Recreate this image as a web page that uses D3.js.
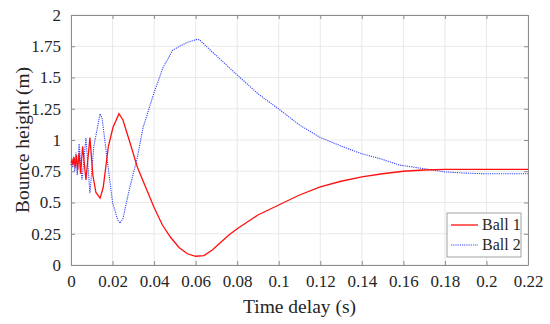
<!DOCTYPE html>
<html>
<head>
<meta charset="utf-8">
<script src="https://cdn.jsdelivr.net/npm/d3@7"></script>
<style>
  body { margin: 0; background: #fff; }
  text { font-family: "Liberation Serif", "DejaVu Serif", serif; fill: #262626; }
</style>
</head>
<body>
<div id="container"></div>
<script>
// time (s) and bounce height (m)
const ball1T = [0, 0.0005, 0.001, 0.0015, 0.002, 0.0026, 0.0032, 0.0039, 0.0046, 0.0056, 0.0072, 0.0091,
  0.0105, 0.012, 0.014, 0.0155, 0.018, 0.0202, 0.0231, 0.025, 0.028, 0.032, 0.036, 0.04, 0.044, 0.048,
  0.052, 0.056, 0.06, 0.064, 0.068, 0.072, 0.076, 0.08, 0.09, 0.1, 0.11, 0.12, 0.13, 0.14, 0.15, 0.16,
  0.17, 0.18, 0.19, 0.2, 0.22]
const ball1H = [0.82, 0.84, 0.8, 0.86, 0.78, 0.88, 0.76, 0.9, 0.73, 0.95, 0.68, 1.02,
  0.72, 0.58, 0.535, 0.62, 0.95, 1.1, 1.21, 1.16, 1.0, 0.78, 0.62, 0.46, 0.32, 0.22,
  0.14, 0.09, 0.07, 0.075, 0.12, 0.18, 0.24, 0.29, 0.4, 0.48, 0.56, 0.625, 0.67, 0.705, 0.73, 0.75,
  0.76, 0.765, 0.765, 0.765, 0.765]

const ball2T = [0, 0.0004, 0.0008, 0.0013, 0.0018, 0.0024, 0.003, 0.0039, 0.0053, 0.0072, 0.0091, 0.011,
  0.014, 0.015, 0.017, 0.02, 0.0225, 0.0236, 0.025, 0.028, 0.0318, 0.0347, 0.04, 0.0443, 0.049, 0.0558,
  0.0607, 0.062, 0.067, 0.08, 0.09, 0.1006, 0.11, 0.12, 0.131, 0.14, 0.149, 0.158, 0.166, 0.174, 0.18,
  0.19, 0.2, 0.22]
const ball2H = [0.8, 0.84, 0.78, 0.87, 0.75, 0.9, 0.72, 0.97, 0.68, 1.015, 0.575, 0.95,
  1.21, 1.17, 0.9, 0.5, 0.36, 0.335, 0.37, 0.6, 0.85, 1.1, 1.38, 1.58, 1.72, 1.78,
  1.805, 1.8, 1.72, 1.52, 1.37, 1.24, 1.12, 1.02, 0.945, 0.89, 0.85, 0.8, 0.78, 0.76, 0.745,
  0.735, 0.73, 0.73]

const xTicks = [0, 0.02, 0.04, 0.06, 0.08, 0.1, 0.12, 0.14, 0.16, 0.18, 0.2, 0.22]
const yTicks = [0, 0.25, 0.5, 0.75, 1, 1.25, 1.5, 1.75, 2]
const seriesNames = ["Ball 1", "Ball 2"]

const width = 550
const height = 324
const margins = { top: 15, right: 22, bottom: 59, left: 71 }

const x = d3.scaleLinear([0, 0.22], [margins.left, width - margins.right])
const y = d3.scaleLinear([0, 2], [height - margins.bottom, margins.top])

const svg = d3.select('#container')
  .append('svg')
  .attr('width', width)
  .attr('height', height)
  .attr('viewBox', [0, 0, width, height])

// grid
svg.append('g')
  .selectAll('line')
  .data(xTicks)
  .join('line')
  .attr('x1', d => x(d)).attr('x2', d => x(d))
  .attr('y1', y(0)).attr('y2', y(2))
  .attr('stroke', '#e3e3e3').attr('stroke-width', 0.8)
svg.append('g')
  .selectAll('line')
  .data(yTicks)
  .join('line')
  .attr('y1', d => y(d)).attr('y2', d => y(d))
  .attr('x1', x(0)).attr('x2', x(0.22))
  .attr('stroke', '#e3e3e3').attr('stroke-width', 0.8)

// axes with inward ticks on all sides
const fmt = d => String(d)
const axisStyle = g => {
  g.select('.domain').attr('stroke', '#8c8c8c')
  g.selectAll('.tick line').attr('stroke', '#8c8c8c')
  g.selectAll('.tick text').attr('font-size', 17).attr('fill', '#262626')
    .attr('font-family', '"Liberation Serif", serif')
}
svg.append('g')
  .attr('transform', `translate(0,${y(0)})`)
  .call(d3.axisBottom(x).tickValues(xTicks).tickFormat(fmt).tickSizeInner(-4).tickSizeOuter(0).tickPadding(10))
  .call(axisStyle)
svg.append('g')
  .attr('transform', `translate(0,${y(2)})`)
  .call(d3.axisTop(x).tickValues(xTicks).tickFormat('').tickSizeInner(-4).tickSizeOuter(0))
  .call(axisStyle)
svg.append('g')
  .attr('transform', `translate(${x(0)},0)`)
  .call(d3.axisLeft(y).tickValues(yTicks).tickFormat(fmt).tickSizeInner(-4).tickSizeOuter(0).tickPadding(10))
  .call(axisStyle)
svg.append('g')
  .attr('transform', `translate(${x(0.22)},0)`)
  .call(d3.axisRight(y).tickValues(yTicks).tickFormat('').tickSizeInner(-4).tickSizeOuter(0))
  .call(axisStyle)

// lines
const line = d3.line().x(d => x(d[0])).y(d => y(d[1]))
svg.append('path')
  .datum(d3.zip(ball2T, ball2H))
  .attr('d', line)
  .attr('fill', 'none')
  .attr('stroke', '#3344ff')
  .attr('stroke-width', 1.1)
  .attr('stroke-dasharray', '1.2,1')
svg.append('path')
  .datum(d3.zip(ball1T, ball1H))
  .attr('d', line)
  .attr('fill', 'none')
  .attr('stroke', '#ff1010')
  .attr('stroke-width', 1.3)

// axis titles
svg.append('text')
  .attr('x', (x(0) + x(0.22)) / 2)
  .attr('y', 313)
  .attr('text-anchor', 'middle')
  .attr('font-size', 19.5)
  .text('Time delay (s)')
svg.append('text')
  .attr('transform', `translate(29,${(y(0) + y(2)) / 2}) rotate(-90)`)
  .attr('text-anchor', 'middle')
  .attr('font-size', 19.5)
  .text('Bounce height (m)')

// legend
const legend = svg.append('g').attr('transform', 'translate(447,213)')
legend.append('rect')
  .attr('width', 74).attr('height', 44)
  .attr('fill', '#fff').attr('stroke', '#8c8c8c').attr('stroke-width', 0.8)
const styles = [
  { stroke: '#ff1010', dash: null, w: 1.3 },
  { stroke: '#3344ff', dash: '1.2,1', w: 1.1 }
]
seriesNames.forEach((name, i) => {
  const yy = 12 + i * 20
  legend.append('line')
    .attr('x1', 4).attr('x2', 31).attr('y1', yy).attr('y2', yy)
    .attr('stroke', styles[i].stroke)
    .attr('stroke-width', styles[i].w)
    .attr('stroke-dasharray', styles[i].dash)
  legend.append('text')
    .attr('x', 35).attr('y', yy + 5)
    .attr('font-size', 16)
    .text(name)
})
</script>
</body>
</html>
